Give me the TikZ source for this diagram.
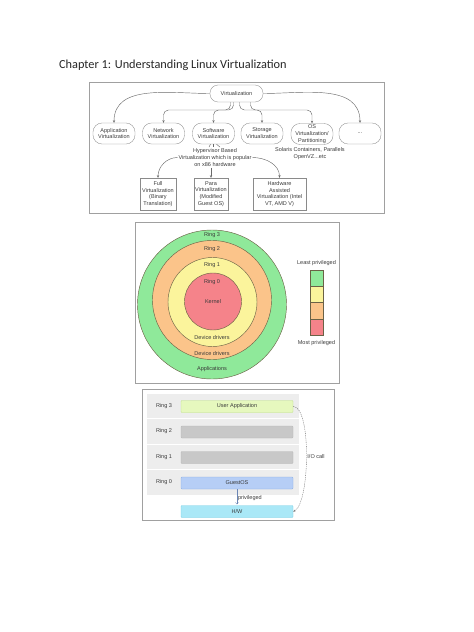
\documentclass[tikz,border=0pt]{standalone}
\usepackage{fontspec}
\setmainfont{Liberation Sans}
\newfontfamily\titlefont{Carlito}
\usetikzlibrary{arrows.meta}

\definecolor{linegray}{HTML}{6A6A6A}
\definecolor{boxgray}{HTML}{8A8A8A}
\definecolor{textgray}{HTML}{3A3A3A}
\definecolor{framegray}{HTML}{A0A0A0}
\definecolor{ringline}{HTML}{6B6246}
\definecolor{ringgreen}{HTML}{8FE99A}
\definecolor{ringyellow}{HTML}{FBF49C}
\definecolor{ringorange}{HTML}{FBC48A}
\definecolor{ringred}{HTML}{F5838A}
\definecolor{panelgray}{HTML}{EDEDED}
\definecolor{bargray}{HTML}{C8C8C8}
\definecolor{barline}{HTML}{B4B4B4}
\definecolor{appfill}{HTML}{E6F8BE}
\definecolor{appline}{HTML}{BCDF84}
\definecolor{osfill}{HTML}{B6CEF6}
\definecolor{osline}{HTML}{86A8E2}
\definecolor{hwfill}{HTML}{AAE8F7}
\definecolor{hwline}{HTML}{74CDE2}

\newcommand{\px}{0.04cm}
\newcommand{\diagfont}{\fontsize{6.3}{7.8}\selectfont}
\newcommand{\splity}{110}
\newcommand{\rowtop}{393}
\newcommand{\rowh}{25.5}

\tikzset{
  frame/.style={draw=framegray, line width=0.6pt},
  pill/.style={draw=boxgray, rounded corners=0.36cm, minimum width=42*\px,
    minimum height=21*\px, inner sep=1pt, align=center, font=\diagfont, text=textgray},
  flatbox/.style={draw=boxgray, align=center, inner sep=1pt, minimum height=32*\px,
    font=\fontsize{6.3}{7.6}\selectfont, text=textgray},
  note/.style={align=center, inner sep=1pt, font=\diagfont, text=textgray},
  link/.style={draw=linegray, line width=0.5pt, -{Stealth[length=3pt,width=2.6pt]}},
  ringedge/.style={draw=ringline, line width=0.5pt},
  bar/.style={minimum width=112*\px, minimum height=12*\px, rounded corners=1pt,
    inner sep=0pt, font=\diagfont, text=textgray, line width=0.5pt},
}

\begin{document}
\begin{tikzpicture}[x=\px, y=-\px]
  \useasboundingbox (0,0) rectangle (474,632);

  \node [anchor=base west, font=\titlefont\fontsize{14}{16}\selectfont, text=black!85]
    (title) at (56,69) {Chapter 1: Understanding Linux Virtualization};

  % virtualization tree
  \draw [frame] (89,82) rectangle (384,213);
  \coordinate (split) at (0,\splity);

  \node [pill, rounded corners=0.32cm, minimum width=53*\px, minimum height=17*\px] (virt) at (236.5,93.5) {Virtualization};
  \node [pill] (app)  at (114,133.5) {Application\\Virtualization};
  \node [pill] (net)  at (163.5,133.5) {Network\\Virtualization};
  \node [pill] (soft) at (213.5,133.5) {Software\\Virtualization};
  \node [pill] (stor) at (262,133.5) {Storage\\Virtualization};
  \node [pill] (os)   at (312,134) {OS\\Virtualization/\\Partitioning};
  \node [pill] (dots) at (360,133.5) {...};

  \draw [link] (virt.west) to[out=180, in=90] (app.north);
  \draw [link, rounded corners=0.2cm] ([xshift=-6*\px]virt.south) |- (net.north |- split) -- (net.north);
  \draw [link, rounded corners=0.2cm] ([xshift=-3*\px]virt.south) |- (soft.north |- split) -- (soft.north);
  \draw [link, rounded corners=0.2cm] ([xshift=3*\px]virt.south) |- (stor.north |- split) -- (stor.north);
  \draw [link, rounded corners=0.2cm] ([xshift=14*\px]virt.south) |- (os.north |- split) -- (os.north);
  \draw [link] (virt.east) to[out=0, in=90] (dots.north);

  \node [note, font=\fontsize{6.3}{8.3}\selectfont] (hyp) at (215,157.5)
    {Hypervisor Based\\Virtualization which is popular\\on x86 hardware};
  \node [note] (sol) at (310,153.5) {Solaris Containers, Parallels\\OpenVZ...etc};

  \draw [draw=linegray, line width=0.5pt] ([xshift=-3*\px]soft.south) -- ([xshift=-6*\px]hyp.north);
  \draw [draw=linegray, line width=0.5pt] (soft.south) -- (soft.south |- hyp.north);
  \draw [draw=linegray, line width=0.5pt] ([xshift=3*\px]soft.south) -- ([xshift=5*\px]hyp.north);

  \node [flatbox, minimum width=36*\px] (full) at (158,194) {Full\\Virtualization\\(Binary\\Translation)};
  \node [flatbox, minimum width=34*\px] (para) at (211,194) {Para\\Virtualization\\(Modified\\Guest OS)};
  \node [flatbox, minimum width=53*\px] (hw) at (279.5,194) {Hardware\\Assisted\\Virtualization (Intel\\VT, AMD V)};

  \draw [link] (hyp.west) to[out=180, in=90] (full.north);
  \draw [link] (hyp.south -| para.north) -- (para.north);
  \draw [link] (hyp.east) to[out=0, in=90] (hw.north);

  % protection rings
  \draw [frame] (135,222) rectangle (339,383);
  \draw [ringedge, fill=ringgreen]  (212,304.5) circle [radius=74.5];
  \draw [ringedge, fill=ringorange] (212,300) circle [radius=59.5];
  \draw [ringedge, fill=ringyellow] (212.5,302) circle [radius=44.5];
  \draw [ringedge, fill=ringred]    (213,301.5) circle [radius=28.5];

  \node [note] (ring3) at (212,235) {Ring 3};
  \node [note] (ring2) at (212,249.5) {Ring 2};
  \node [note] (ring1) at (212,265) {Ring 1};
  \node [note] (ring0) at (212,282) {Ring 0};
  \node [note] (kernel) at (213,302) {Kernel};
  \node [note] (drv1) at (212,337.5) {Device drivers};
  \node [note] (drv2) at (212,353.5) {Device drivers};
  \node [note] (apps) at (212,369.5) {Applications};

  \foreach \c [count=\i from 0] in {ringgreen,ringyellow,ringorange,ringred}
    \draw [ringedge, fill=\c] (310,270+\i*16.25) rectangle ++(13,16.25);
  \node [note] (least) at (316.5,263) {Least privileged};
  \node [note] (most) at (316.5,343) {Most privileged};

  % ring levels and I/O path
  \draw [frame] (142,389) rectangle (334,520);
  \foreach \r [count=\i from 0] in {3,2,1,0} {
    \draw [draw=white, line width=0.8pt, fill=panelgray] (146,\rowtop+\i*\rowh) rectangle ++(153,\rowh);
    \node [note] (tag\r) at (164,\rowtop+\i*\rowh+\rowh/2) {Ring \r};
  }

  \node [bar, fill=appfill, draw=appline] (userapp) at (237,406.5) {User Application};
  \node [bar, fill=bargray, draw=barline] (ring2bar) at (237,432) {};
  \node [bar, fill=bargray, draw=barline] (ring1bar) at (237,457.5) {};
  \node [bar, fill=osfill, draw=osline] (guestos) at (237,483) {GuestOS};
  \node [bar, fill=hwfill, draw=hwline] (hwbar) at (237,511.5) {H/W};

  \draw [draw=osline!80!black, line width=0.4pt, -{Straight Barb[length=2pt,width=3.5pt]}]
    (guestos.south) -- ([yshift=1pt]hwbar.north) node [note, right, pos=0.55] {privileged};
  \draw [draw=linegray, line width=0.4pt, dash pattern=on 1.5pt off 1pt,
    -{Stealth[length=2.5pt,width=2.2pt]}]
    (userapp.east) to[out=0, in=25, looseness=0.45] node [note, right] {I/O call} (hwbar.east);

\end{tikzpicture}
\end{document}
